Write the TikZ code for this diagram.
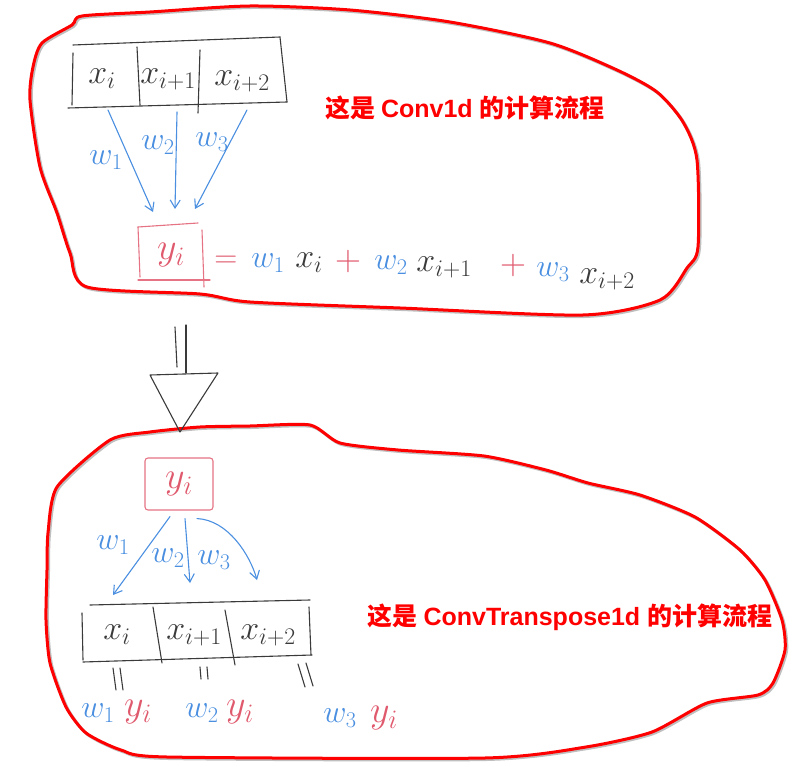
\RequirePackage{fix-cm}
\documentclass[tikz,border=0pt]{standalone}
\usepackage{fontspec}
\newfontfamily\cjk{Noto Sans CJK SC}
\newfontfamily\lat{Liberation Sans}
\usetikzlibrary{arrows.meta,calc}
\definecolor{pen}{HTML}{3A3A3A}
\definecolor{wblue}{HTML}{4A8FE0}
\definecolor{ypink}{HTML}{E05A6E}
\definecolor{redline}{HTML}{FF0000}
\tikzset{
  outline/.style={draw=redline, line width=3pt, line join=round},
  shadowline/.style={draw=black!25, line width=3pt, line join=round},
  penline/.style={draw=pen, line width=1.1pt, line cap=round},
  pinkline/.style={draw=ypink!85, line width=1.1pt, line cap=round},
  warrow/.style={draw=wblue, line width=1.1pt, line cap=round, -{Straight Barb[length=8pt,width=10pt,line width=1.1pt]}},
  mtext/.style={inner sep=0pt, text=pen, font=\fontsize{34}{38}\selectfont},
  wtext/.style={inner sep=0pt, text=wblue, font=\fontsize{32}{36}\selectfont},
  ytext/.style={inner sep=0pt, text=ypink, font=\fontsize{38}{42}\selectfont},
  redlabel/.style={inner sep=2pt, text=redline, font=\fontsize{25}{28}\selectfont\bfseries},
}
\begin{document}
\begin{tikzpicture}[x=1pt,y=-1pt]
\useasboundingbox (0,0) rectangle (792,767);
% ---------- top outline ----------
\draw[shadowline, shift={(1.5,1.5)}] plot[smooth cycle, tension=0.45] coordinates {
 (82,16) (150,12) (250,6) (350,10) (450,22) (550,43) (617,70) (657,92) (683,122)
 (697,160) (698,247) (687,268) (660,300) (583,315) (400,308) (250,302) (200,294)
 (87,287) (70,253) (57,213) (40,167) (30,100) (33,67) (42,43) (72,25)};
\draw[outline] plot[smooth cycle, tension=0.45] coordinates {
 (82,16) (150,12) (250,6) (350,10) (450,22) (550,43) (617,70) (657,92) (683,122)
 (697,160) (698,247) (687,268) (660,300) (583,315) (400,308) (250,302) (200,294)
 (87,287) (70,253) (57,213) (40,167) (30,100) (33,67) (42,43) (72,25)};
% ---------- bottom outline ----------
\draw[shadowline, shift={(1.5,1.5)}] plot[smooth cycle, tension=0.4] coordinates {
 (110,440) (150,432) (200,427) (250,426) (310,425) (340,443) (398,450)
 (484,456) (546,470) (588,483) (640,495) (695,517) (740,550) (765,580) (782,620)
 (785,650) (773,683) (758,695) (707,703) (652,732) (586,747) (485,758) (167,757)
 (121,750) (86,733) (66,707) (50,663) (46,620) (47,570) (48,533) (57,487)};
\draw[outline] plot[smooth cycle, tension=0.4] coordinates {
 (110,440) (150,432) (200,427) (250,426) (310,425) (340,443) (398,450)
 (484,456) (546,470) (588,483) (640,495) (695,517) (740,550) (765,580) (782,620)
 (785,650) (773,683) (758,695) (707,703) (652,732) (586,747) (485,758) (167,757)
 (121,750) (86,733) (66,707) (50,663) (46,620) (47,570) (48,533) (57,487)};

% ---------- top: input cells ----------
\draw[penline] (73,45) -- (280,37) -- (287,102);
\draw[penline] (68,108) -- (287,102);
\draw[penline] (73,53) -- (72,105);
\draw[penline] (137,47) -- (140,105);
\draw[penline] (200,50) -- (198,113);
\node[mtext] (tx1) at (102,79) {$x_i$};
\node[mtext] (tx2) at (168,79) {$x_{i+1}$};
\node[mtext] (tx3) at (242,81) {$x_{i+2}$};
\coordinate (ts1) at (108,110);
\coordinate (ts2) at (177,112);
\coordinate (ts3) at (247,110);
\coordinate (te1) at (153,212);
\coordinate (te2) at (175,209);
\coordinate (te3) at (195,209);
\draw[warrow] (ts1) -- (te1);
\draw[warrow] (ts2) -- (te2);
\draw[warrow] (ts3) -- (te3);
\node[wtext] (tw1) at (106,160) {$w_1$};
\node[wtext] (tw2) at (158,145) {$w_2$};
\node[wtext] (tw3) at (212,142) {$w_3$};

% ---------- top: output y_i and equation ----------
\draw[pinkline] (138,227) -- (198,223);
\draw[pinkline] (138,227) -- (140,277);
\draw[pinkline] (202,230) -- (204,287);
\draw[pinkline] (138,280) -- (210,280);
\node[ytext] (ty) at (171,255) {$y_i$};
\node[inner sep=0pt, text=ypink, font=\fontsize{32}{36}\selectfont] (eq) at (226,262) {$=$};
\node[wtext] (ew1) at (268,263) {$w_1$};
\node[mtext] (ex1) at (309,263) {$x_i$};
\node[inner sep=0pt, text=ypink, font=\fontsize{36}{40}\selectfont] (ep1) at (348,262) {$+$};
\node[wtext] (ew2) at (391,265) {$w_2$};
\node[mtext] (ex2) at (444,267) {$x_{i+1}$};
\node[inner sep=0pt, text=ypink, font=\fontsize{36}{40}\selectfont] (ep2) at (513,266) {$+$};
\node[wtext] (ew3) at (553,272) {$w_3$};
\node[mtext] (ex3) at (607,279) {$x_{i+2}$};

\node[redlabel] (lab1) at (465,108) {\cjk 这是 \lat Conv1d \cjk 的计算流程};

% ---------- middle arrow ----------
\draw[penline] (175,327) -- (177,367);
\draw[penline] (186,325) -- (186,373);
\draw[penline, line join=round] (150,375) -- (218,373) -- (180,432) -- cycle;

% ---------- bottom: y_i ----------
\node[draw=ypink!85, line width=1.1pt, rounded corners=3pt, minimum width=68pt,
      minimum height=52pt, inner sep=0pt, text=ypink, font=\fontsize{38}{42}\selectfont]
      (by) at (179,484) {$y_i$};
\coordinate (be1) at (113,595);
\coordinate (be2) at (190,583);
\coordinate (be3) at (257,580);
\draw[warrow] ($(by.south)+(-9,6)$) -- (be1);
\draw[warrow] ($(by.south)+(6,8)$) -- (be2);
\draw[warrow] ($(by.south)+(18,8)$) .. controls (228,520) and (250,555) .. (be3);
\node[wtext] (bw1) at (113,545) {$w_1$};
\node[wtext] (bw2) at (168,558) {$w_2$};
\node[wtext] (bw3) at (214,560) {$w_3$};

% ---------- bottom: cells ----------
\draw[penline] (90,605) -- (310,600);
\draw[penline] (82,613) -- (83,660);
\draw[penline] (83,662) -- (312,655);
\draw[penline] (309,607) -- (311,655);
\draw[penline] (153,607) -- (162,663);
\draw[penline] (225,610) -- (235,665);
\node[mtext] (bx1) at (117,635) {$x_i$};
\node[mtext] (bx2) at (194,635) {$x_{i+1}$};
\node[mtext] (bx3) at (268,635) {$x_{i+2}$};
% equality marks
\draw[penline] (113,668) -- (116,690);
\draw[penline] (120,668) -- (123,690);
\draw[penline] (200,667) -- (201,679);
\draw[penline] (207,667) -- (208,679);
\draw[penline] (298,664) -- (305,687);
\draw[penline] (306,663) -- (313,686);
% products
\node[wtext] (pw1) at (98,713) {$w_1$};
\node[ytext] (py1) at (138,712) {$y_i$};
\node[wtext] (pw2) at (202,713) {$w_2$};
\node[ytext] (py2) at (240,712) {$y_i$};
\node[wtext] (pw3) at (340,718) {$w_3$};
\node[ytext] (py3) at (384,718) {$y_i$};

\node[redlabel] (lab2) at (570,617) {\cjk 这是 \lat ConvTranspose1d \cjk 的计算流程};
\end{tikzpicture}
\end{document}
